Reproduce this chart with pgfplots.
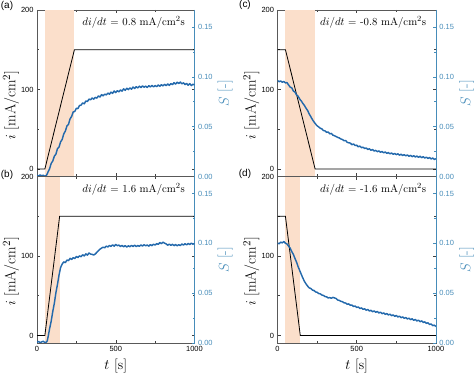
\documentclass[border=0pt]{standalone}
\usepackage{pgfplots}
\pgfplotsset{compat=1.18}
\usepackage{pgfplotstable}
\usepackage{fontspec}
\newfontfamily\arialf{Liberation Sans}
\definecolor{sblue}{RGB}{70,140,185}
\definecolor{scurve}{RGB}{35,105,172}
\definecolor{peach}{RGB}{251,223,203}

\pgfplotstableread{
t S
0 0.0012
10 0.0004
20 0.0016
30 0.0007
40 0.0013
50 0.0003
60 0.0010
70 0.0045
80 0.0078
90 0.0131
100 0.0155
110 0.0203
120 0.0224
130 0.0279
140 0.0296
150 0.0348
160 0.0372
170 0.0428
180 0.0455
190 0.0507
200 0.0524
210 0.0578
220 0.0603
230 0.0648
240 0.0652
250 0.0684
260 0.0681
270 0.0712
280 0.0716
290 0.0738
300 0.0729
310 0.0757
320 0.0752
330 0.0776
340 0.0769
350 0.0788
360 0.0775
370 0.0794
380 0.0786
390 0.0808
400 0.0797
410 0.0821
420 0.0809
430 0.0826
440 0.0818
450 0.0837
460 0.0825
470 0.0846
480 0.0834
490 0.0858
500 0.0842
510 0.0861
520 0.0849
530 0.0868
540 0.0856
550 0.0879
560 0.0864
570 0.0885
580 0.0871
590 0.0889
600 0.0876
610 0.0897
620 0.0883
630 0.0901
640 0.0888
650 0.0906
660 0.0892
670 0.0909
680 0.0895
690 0.0907
700 0.0893
710 0.0911
720 0.0898
730 0.0914
740 0.0899
750 0.0912
760 0.0901
770 0.0918
780 0.0905
790 0.0922
800 0.0908
810 0.0925
820 0.0911
830 0.0928
840 0.0914
850 0.0932
860 0.0921
870 0.0941
880 0.0927
890 0.0946
900 0.0933
910 0.0948
920 0.0929
930 0.0940
940 0.0921
950 0.0934
960 0.0915
970 0.0931
980 0.0912
990 0.0926
1000 0.0918
}\dataA

\pgfplotstableread{
t S
0 0.0008
10 0.0015
20 0.0003
30 0.0011
40 0.0018
50 0.0004
60 0.0009
65 0.0021
70 0.0058
80 0.0143
90 0.0218
100 0.0315
110 0.0398
120 0.0504
130 0.0588
140 0.0683
150 0.0758
160 0.0792
170 0.0814
180 0.0806
190 0.0832
200 0.0826
210 0.0849
220 0.0838
230 0.0856
240 0.0847
250 0.0868
260 0.0857
270 0.0874
280 0.0866
290 0.0885
300 0.0873
310 0.0894
320 0.0881
330 0.0903
340 0.0892
350 0.0889
360 0.0882
370 0.0893
380 0.0909
390 0.0926
400 0.0941
410 0.0952
420 0.0961
430 0.0955
440 0.0972
450 0.0963
460 0.0978
470 0.0969
480 0.0985
490 0.0971
500 0.0989
510 0.0976
520 0.0982
530 0.0968
540 0.0979
550 0.0965
560 0.0977
570 0.0962
580 0.0975
590 0.0966
600 0.0979
610 0.0968
620 0.0981
630 0.0967
640 0.0978
650 0.0970
660 0.0984
670 0.0972
680 0.0986
690 0.0975
700 0.0983
710 0.0971
720 0.0987
730 0.0976
740 0.0991
750 0.0982
760 0.0997
770 0.0989
780 0.1008
790 0.0996
800 0.1012
810 0.1001
820 0.0994
830 0.0981
840 0.0992
850 0.0979
860 0.0990
870 0.0976
880 0.0988
890 0.0975
900 0.0986
910 0.0978
920 0.0993
930 0.0982
940 0.0996
950 0.0984
960 0.0999
970 0.0987
980 0.1002
990 0.0991
1000 0.0998
}\dataB

\pgfplotstableread{
t S
0 0.0962
10 0.0951
20 0.0958
30 0.0946
40 0.0953
50 0.0939
60 0.0942
70 0.0918
80 0.0897
90 0.0889
100 0.0858
110 0.0847
120 0.0819
130 0.0806
140 0.0776
150 0.0758
160 0.0733
170 0.0712
180 0.0685
190 0.0662
200 0.0628
210 0.0601
220 0.0572
230 0.0548
240 0.0527
250 0.0509
260 0.0497
270 0.0484
280 0.0478
290 0.0461
300 0.0458
310 0.0443
320 0.0446
330 0.0428
340 0.0432
350 0.0414
360 0.0409
370 0.0401
380 0.0392
390 0.0387
400 0.0376
410 0.0371
420 0.0359
430 0.0361
440 0.0343
450 0.0338
460 0.0335
470 0.0319
480 0.0326
490 0.0311
500 0.0314
510 0.0298
520 0.0305
530 0.0289
540 0.0294
550 0.0281
560 0.0286
570 0.0271
580 0.0278
590 0.0263
600 0.0270
610 0.0256
620 0.0262
630 0.0249
640 0.0257
650 0.0243
660 0.0251
670 0.0238
680 0.0246
690 0.0232
700 0.0240
710 0.0227
720 0.0236
730 0.0223
740 0.0231
750 0.0219
760 0.0228
770 0.0214
780 0.0223
790 0.0211
800 0.0219
810 0.0207
820 0.0216
830 0.0203
840 0.0212
850 0.0199
860 0.0209
870 0.0196
880 0.0205
890 0.0192
900 0.0203
910 0.0189
920 0.0198
930 0.0185
940 0.0194
950 0.0181
960 0.0190
970 0.0176
980 0.0185
990 0.0171
1000 0.0179
}\dataC

\pgfplotstableread{
t S
0 0.1003
10 0.0995
20 0.1012
30 0.1004
40 0.1018
50 0.1001
60 0.0993
70 0.0972
80 0.0951
90 0.0917
100 0.0889
110 0.0849
120 0.0812
130 0.0766
140 0.0728
150 0.0689
160 0.0652
170 0.0618
180 0.0593
190 0.0571
200 0.0553
210 0.0547
220 0.0531
230 0.0527
240 0.0512
250 0.0509
260 0.0496
270 0.0493
280 0.0481
290 0.0477
300 0.0466
310 0.0463
320 0.0452
330 0.0455
340 0.0449
350 0.0458
360 0.0452
370 0.0446
380 0.0431
390 0.0427
400 0.0418
410 0.0414
420 0.0403
430 0.0401
440 0.0389
450 0.0392
460 0.0378
470 0.0381
480 0.0366
490 0.0371
500 0.0357
510 0.0361
520 0.0346
530 0.0352
540 0.0338
550 0.0343
560 0.0329
570 0.0336
580 0.0321
590 0.0328
600 0.0314
610 0.0322
620 0.0308
630 0.0316
640 0.0301
650 0.0309
660 0.0294
670 0.0302
680 0.0287
690 0.0295
700 0.0281
710 0.0289
720 0.0274
730 0.0282
740 0.0267
750 0.0276
760 0.0261
770 0.0269
780 0.0254
790 0.0262
800 0.0248
810 0.0255
820 0.0241
830 0.0249
840 0.0234
850 0.0243
860 0.0228
870 0.0236
880 0.0221
890 0.0229
900 0.0214
910 0.0222
920 0.0206
930 0.0212
940 0.0197
950 0.0203
960 0.0186
970 0.0191
980 0.0174
990 0.0179
1000 0.0165
}\dataD

\tikzset{ann/.style={font=\fontsize{10.8}{13}\selectfont, anchor=east, inner sep=0pt}}

\pgfplotsset{
  panelI/.style={
    scale only axis, width=157.5bp, height=166.5bp, anchor=south west,
    xmin=0, xmax=1000, ymin=-9.5, ymax=200,
    xtick={0,500,1000}, minor xtick={250,750},
    ytick={0,100,200}, minor ytick={50,150},
    major tick length=3bp, minor tick length=2bp,
    tick style={black!75, line width=0.5pt},
    axis line style={black!65, line width=0.6pt},
    tick label style={font=\arialf\fontsize{7.5}{9}\selectfont},
    /pgf/number format/assume math mode=true,
    /pgf/number format/1000 sep={},
    ylabel={$i$ [mA/cm$^2$]},
    ylabel style={font=\fontsize{15}{18}\selectfont, at={(axis description cs:-0.165,0.43)}, anchor=center},
    xlabel style={font=\fontsize{14}{17}\selectfont},
    clip=true,
  },
  panelS/.style={
    scale only axis, width=157.5bp, height=166.5bp, anchor=south west,
    xmin=0, xmax=1000, ymin=0, ymax=0.167,
    axis x line=none, axis y line*=right,
    ytick={0,0.05,0.10,0.15}, minor ytick={0.025,0.075,0.125},
    major tick length=3bp, minor tick length=2bp,
    y axis line style={sblue, line width=0.6pt},
    ytick style={sblue, line width=0.5pt},
    yticklabel style={font=\arialf\fontsize{7.5}{9}\selectfont, color=sblue,
      /pgf/number format/.cd, fixed, fixed zerofill, precision=2},
    /pgf/number format/assume math mode=true,
    ylabel={$S$ [-]},
    ylabel style={font=\fontsize{15}{18}\selectfont, color=sblue, at={(axis description cs:1.194,0.5)}, anchor=center},
  },
  scurvestyle/.style={scurve, line width=1.45pt, line join=round},
}

\begin{document}
\begin{tikzpicture}
\useasboundingbox (0,0) rectangle (474bp,378bp);

% ---------- (a)
\begin{axis}[panelI, at={(37bp,201.5bp)}, xticklabels={}]
\addplot[fill=peach, draw=none] coordinates {(50,-9.5) (237.5,-9.5) (237.5,200) (50,200)} -- cycle;
\addplot[black, line width=0.8pt] coordinates {(0,0) (50,0) (237.5,150) (1000,150)};
\node[ann] at (rel axis cs:0.94,0.924) {$di/dt$ = 0.8 mA/cm$^2$s};
\end{axis}
\begin{axis}[panelS, at={(37bp,201.5bp)}]
\addplot[scurvestyle] table[x=t, y=S] {\dataA};
\end{axis}

% ---------- (b)
\begin{axis}[panelI, at={(37bp,35bp)}, xlabel={$t$ [s]}]
\addplot[fill=peach, draw=none] coordinates {(50,-9.5) (143.75,-9.5) (143.75,200) (50,200)} -- cycle;
\addplot[black, line width=0.8pt] coordinates {(0,0) (50,0) (143.75,150) (1000,150)};
\node[ann] at (rel axis cs:0.94,0.924) {$di/dt$ = 1.6 mA/cm$^2$s};
\end{axis}
\begin{axis}[panelS, at={(37bp,35bp)}]
\addplot[scurvestyle] table[x=t, y=S] {\dataB};
\end{axis}

% ---------- (c)
\begin{axis}[panelI, at={(277.5bp,201.5bp)}, width=158.4bp, xticklabels={}]
\addplot[fill=peach, draw=none] coordinates {(50,-9.5) (237.5,-9.5) (237.5,200) (50,200)} -- cycle;
\addplot[black, line width=0.8pt] coordinates {(0,150) (50,150) (237.5,0) (1000,0)};
\node[ann] at (rel axis cs:0.94,0.924) {$di/dt$ = -0.8 mA/cm$^2$s};
\end{axis}
\begin{axis}[panelS, at={(277.5bp,201.5bp)}, width=158.4bp]
\addplot[scurvestyle] table[x=t, y=S] {\dataC};
\end{axis}

% ---------- (d)
\begin{axis}[panelI, at={(277.5bp,35bp)}, width=158.4bp, xlabel={$t$ [s]}]
\addplot[fill=peach, draw=none] coordinates {(50,-9.5) (143.75,-9.5) (143.75,200) (50,200)} -- cycle;
\addplot[black, line width=0.8pt] coordinates {(0,150) (50,150) (143.75,0) (1000,0)};
\node[ann] at (rel axis cs:0.94,0.924) {$di/dt$ = -1.6 mA/cm$^2$s};
\end{axis}
\begin{axis}[panelS, at={(277.5bp,35bp)}, width=158.4bp]
\addplot[scurvestyle] table[x=t, y=S] {\dataD};
\end{axis}

% panel letters
\node[font=\arialf\fontsize{10}{12}\selectfont, inner sep=0pt] at (7bp,372bp) {(a)};
\node[font=\arialf\fontsize{10}{12}\selectfont, inner sep=0pt] at (7bp,203bp) {(b)};
\node[font=\arialf\fontsize{10}{12}\selectfont, inner sep=0pt] at (245bp,373bp) {(c)};
\node[font=\arialf\fontsize{10}{12}\selectfont, inner sep=0pt] at (245bp,204bp) {(d)};
\end{tikzpicture}
\end{document}
